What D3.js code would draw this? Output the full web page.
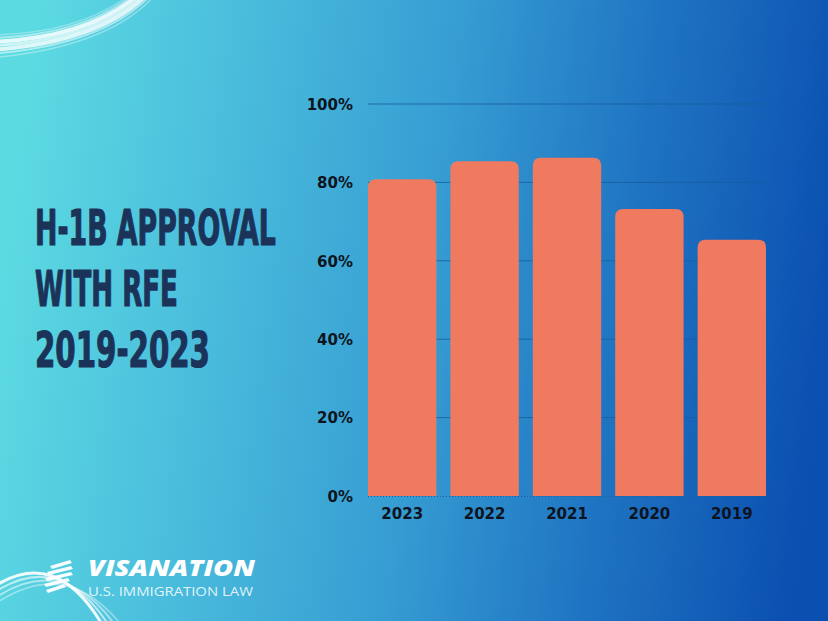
<!DOCTYPE html>
<html><head><meta charset="utf-8">
<script src="https://cdn.jsdelivr.net/npm/d3@7/dist/d3.min.js"></script>
<style>html,body{margin:0;padding:0;overflow:hidden;background:#2a8fcb}</style>
</head><body>
<svg id="c" width="828" height="621"></svg>
<script>
const categories = ["2023","2022","2021","2020","2019"];
const approvalWithRFE = [80.8, 85.4, 86.3, 73.2, 65.4];
const yTicks = [0, 20, 40, 60, 80, 100];
const titleLines = ["H-1B APPROVAL", "WITH RFE", "2019-2023"];

const svg = d3.select("#c");
const W = 828, H = 621;
const defs = svg.append("defs");
const bg = defs.append("linearGradient").attr("id","bg").attr("x1","0").attr("y1","0.45").attr("x2","1").attr("y2","0.55");
bg.append("stop").attr("offset","0").attr("stop-color","#5cdae2");
bg.append("stop").attr("offset","0.22").attr("stop-color","#4cc0dd");
bg.append("stop").attr("offset","0.5").attr("stop-color","#379ed3");
bg.append("stop").attr("offset","0.75").attr("stop-color","#1f74c2");
bg.append("stop").attr("offset","1").attr("stop-color","#0b4fb0");
svg.append("rect").attr("width",W).attr("height",H).attr("fill","url(#bg)");

// decorative brush swirl top-left
const sw = svg.append("g").attr("fill","none").attr("stroke","#ffffff").attr("stroke-linecap","round");
[[42,0.85,4],[46,0.7,3],[50,0.8,4],[54,0.5,2],[38,0.45,2],[58,0.35,1.5],[35,0.3,1.5]].forEach(([y0,op,w],i)=>{
  sw.append("path").attr("d",`M-10,${y0} Q${90+(y0-45)},${40+(y0-45)*0.6} ${140+(y0-45)*0.8},${-4+(y0-45)*0.3}`)
    .attr("stroke-opacity",op).attr("stroke-width",w);
});

// chart
const x = d3.scaleBand().domain(categories).range([368, 766]).paddingInner(0.17).paddingOuter(0);
const y = d3.scaleLinear().domain([0, 100]).range([496, 104]);

const grid = svg.append("g");
grid.selectAll("line").data(yTicks.filter(d=>d>0)).join("line")
  .attr("x1", 368).attr("x2", 766).attr("y1", d=>y(d)).attr("y2", d=>y(d))
  .attr("stroke", "#165c9c").attr("stroke-opacity",0.8).attr("stroke-width",1);

const r = 8;
svg.append("g").selectAll("path").data(categories).join("path")
  .attr("fill","#ef7a60")
  .attr("d",(c,i)=>{
    const x0 = x(c), w = x.bandwidth(), yt = y(approvalWithRFE[i]), yb = y(0);
    return `M${x0},${yb} V${yt+r} Q${x0},${yt} ${x0+r},${yt} H${x0+w-r} Q${x0+w},${yt} ${x0+w},${yt+r} V${yb} Z`;
  });
svg.append("line").attr("x1",368).attr("x2",766).attr("y1",y(0)+0.5).attr("y2",y(0)+0.5)
  .attr("stroke","#1d5f9a").attr("stroke-width",1).attr("stroke-dasharray","1,2");

const fontAxis = "'DejaVu Sans', sans-serif";
const yAxis = d3.axisLeft(y).tickValues(yTicks).tickFormat(d=>d+"%").tickSize(0).tickPadding(0);
const ya = svg.append("g").attr("transform","translate(353,0)").call(yAxis);
ya.select(".domain").remove();
ya.selectAll("text").attr("font-family",fontAxis).attr("font-weight",700).attr("font-size",15).attr("fill","#0d1420").attr("dy","0.35em");

const xAxis = d3.axisBottom(x).tickSize(0).tickPadding(0);
const xa = svg.append("g").attr("transform","translate(0,508)").call(xAxis);
xa.select(".domain").remove();
xa.selectAll("text").attr("font-family",fontAxis).attr("font-weight",700).attr("font-size",15).attr("fill","#0d1420").attr("dy","0.71em");

// title (condensed by horizontal scaling)
const tWidths = [241, 143, 175];
const tBase = [245, 306, 367];
const tg = svg.append("g");
titleLines.forEach((t,i)=>{
  const txt = tg.append("text").attr("x",0).attr("y",0)
    .attr("font-family","'DejaVu Sans Condensed','DejaVu Sans',sans-serif").attr("font-stretch","condensed")
    .attr("font-weight",700).attr("font-size",50).attr("fill","#1b3359")
    .attr("stroke","#1b3359").attr("stroke-width",1.2).attr("stroke-linejoin","round")
    .text(t);
  const bw = txt.node().getComputedTextLength();
  txt.attr("transform",`translate(35,${tBase[i]}) scale(${tWidths[i]/bw},1)`);
});

// logo
const lg = svg.append("g");
const lgs = lg.append("g").attr("fill","none").attr("stroke","#ffffff").attr("stroke-linecap","round");
[[0.9,3],[0.6,2],[0.5,2],[0.4,1.5]].forEach(([op,w],i)=>{
  lgs.append("path").attr("d",`M${-5},${586+i*6} Q${55+i*3},${548+i*3} ${100+i*6},${621}`).attr("stroke-opacity",op).attr("stroke-width",w);
});
const glob = lg.append("g").attr("fill","#ffffff");
[[50,566,20],[47,572,24],[45,578,26],[44,584,24],[46,590,18]].forEach(([x0,y0,w])=>{
  glob.append("path").attr("d",`M${x0},${y0} l${w},-6 l2,3 l${-w},6 z`).attr("opacity",0.95);
});
const t1 = lg.append("text").attr("x",0).attr("y",0).attr("font-family","'Open Sans','DejaVu Sans',sans-serif")
  .attr("font-weight",800).attr("font-style","italic").attr("font-size",23).attr("fill","#ffffff").text("VISANATION");
t1.attr("transform",`translate(88,576) scale(${167/t1.node().getComputedTextLength()},1)`);
const t2 = lg.append("text").attr("x",0).attr("y",0).attr("font-family","'Open Sans','DejaVu Sans',sans-serif")
  .attr("font-weight",400).attr("font-size",12).attr("fill","#ffffff").attr("fill-opacity",0.85).text("U.S. IMMIGRATION LAW");
t2.attr("transform",`translate(88,596) scale(${165/t2.node().getComputedTextLength()},1)`);
</script>
</body></html>
